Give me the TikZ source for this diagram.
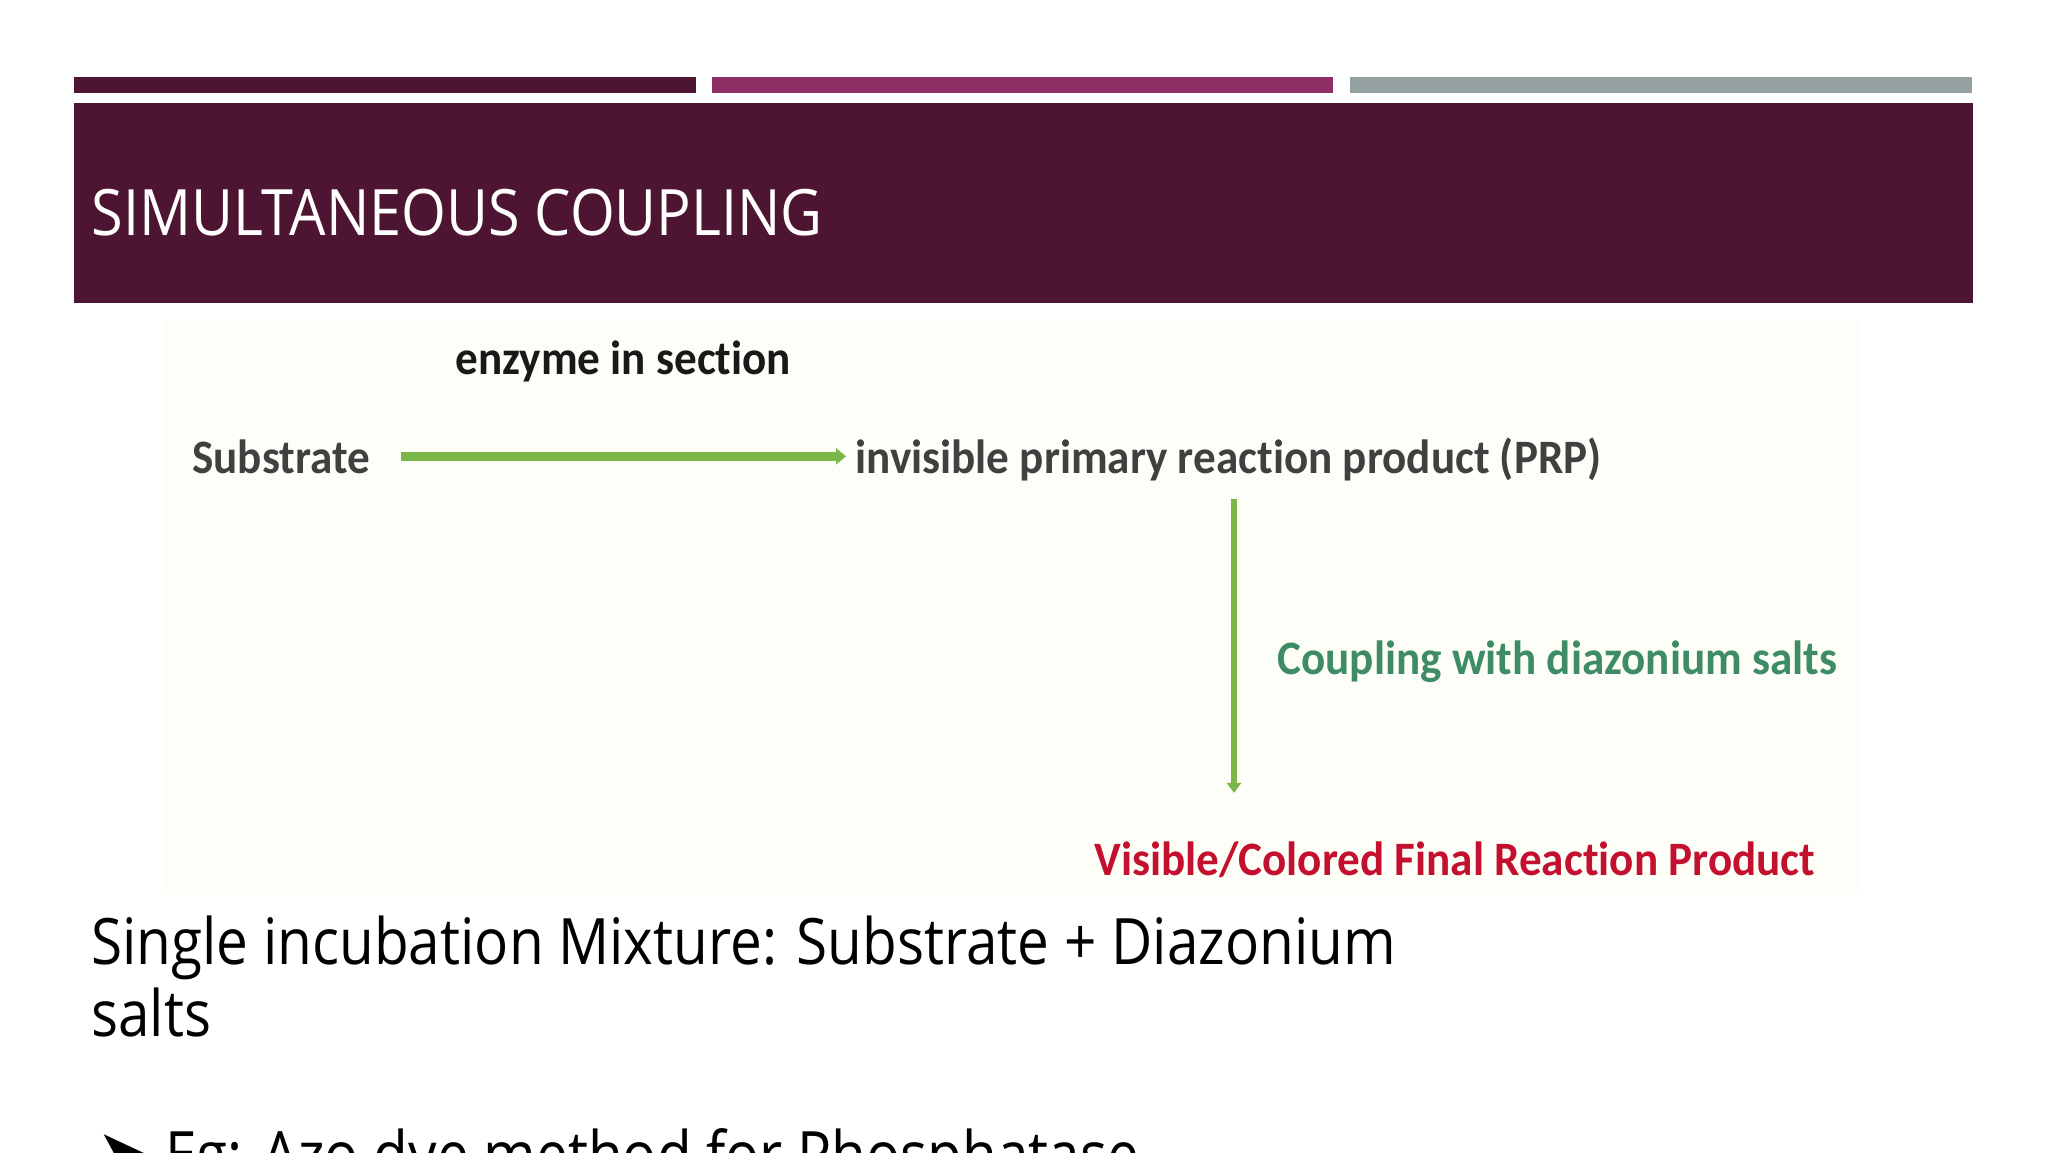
\documentclass[tikz,border=0pt]{standalone}
\usepackage{fontspec}
\usetikzlibrary{arrows.meta,calc}
\setmainfont{Carlito}
\newfontfamily\diafont[FakeStretch=0.94,Ligatures={NoCommon}]{Carlito}
\newfontfamily\titlefont[FakeStretch=0.9]{Open Sans}
\newfontfamily\bodyfont[FakeStretch=0.885]{Open Sans}
\newfontfamily\symfont{DejaVu Sans}
\definecolor{plum}{HTML}{4D1532}
\definecolor{berry}{HTML}{8E2F63}
\definecolor{slate}{HTML}{95A0A3}
\definecolor{arrgreen}{HTML}{7AB648}
\definecolor{txtgray}{HTML}{404040}
\definecolor{teal}{HTML}{3D8C66}
\definecolor{crimson}{HTML}{C4102F}
\definecolor{cream}{HTML}{FEFEF8}
\tikzset{
  dtext/.style={anchor=base west,inner sep=0pt,font=\diafont\fontsize{24pt}{28pt}\selectfont\bfseries},
  harr/.style={draw=arrgreen,line width=4.5pt,-{Triangle[length=5pt,width=8pt]}},
  varr/.style={draw=arrgreen,line width=3pt,-{Triangle[length=5pt,width=7pt]}},
}
\begin{document}
\begin{tikzpicture}[x=0.5pt,y=-0.5pt]
\useasboundingbox (0,0) rectangle (2048,1152);
\clip (0,0) rectangle (2048,1152);
\fill[white] (0,0) rectangle (2048,1152);
% top bars
\fill[plum] (74,77) rectangle (696,93);
\fill[berry] (712,77) rectangle (1333,93);
\fill[slate] (1350,77) rectangle (1972,93);
% header
\fill[plum] (74,103) rectangle (1973,303);
\node[anchor=base west,inner sep=0pt,text=white,font=\titlefont\fontsize{32pt}{36pt}\selectfont] (title) at (91,235) {SIMULTANEOUS COUPLING};
% diagram background
\fill[cream] (163,320) rectangle (1861,895);
\node[dtext,text=black!90] (enz) at (455,374) {enzyme in section};
\node[dtext,text=txtgray] (sub) at (192,473) {Substrate};
\node[dtext,text=txtgray] (prp) at (855,473) {invisible primary reaction product (PRP)};
\node[dtext,text=teal] (coup) at (1277,674) {Coupling with diazonium salts};
\node[dtext,text=crimson] (vis) at (1094,875) {Visible/Colored Final Reaction Product};
\coordinate (vx) at (1234,0);
\draw[harr] ([xshift=15.5pt]sub.east) -- ([xshift=-4.5pt]sub.east -| prp.west);
\draw[varr] ([yshift=-9pt]prp.south -| vx) -- ([yshift=24pt]vis.north -| vx);
% body text
\node[anchor=base west,inner sep=0pt,align=left,font=\bodyfont\fontsize{32pt}{36pt}\selectfont] (body) at (91,1036) {Single incubation Mixture: Substrate + Diazonium\\salts};
\node[anchor=base west,inner sep=0pt,font=\bodyfont\fontsize{32pt}{34pt}\selectfont] (eg) at (96,1177) {{\symfont\fontsize{34pt}{34pt}\selectfont ➤}\hspace{6pt}Eg: Azo dye method for Phosphatase};
\end{tikzpicture}
\end{document}
